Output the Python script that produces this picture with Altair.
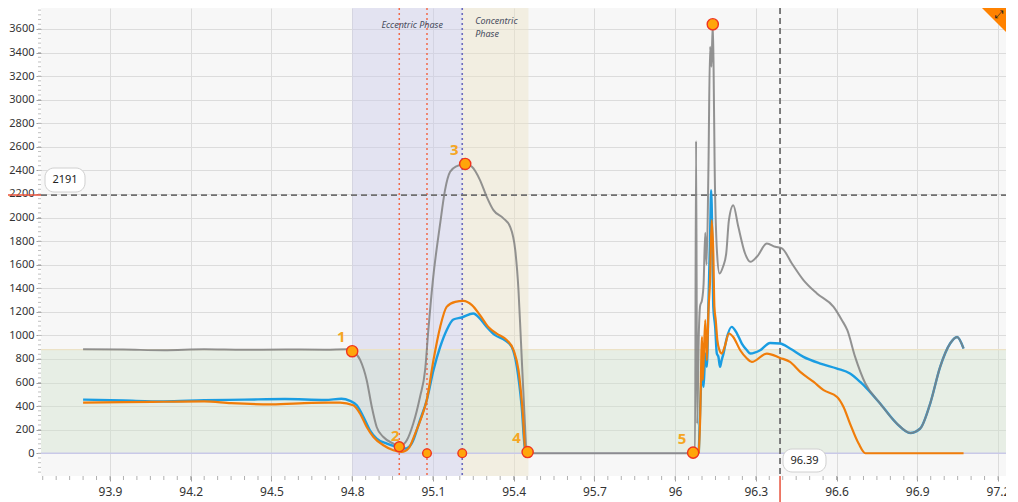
import altair as alt
import pandas as pd
import numpy as np

# ---------------- data ----------------
gray_x = [93.80, 93.95, 94.10, 94.25, 94.40, 94.55, 94.70, 94.78, 94.80, 94.83, 94.854, 94.873, 94.891,
          94.916, 94.953, 94.978, 95.003, 95.027, 95.052, 95.071, 95.083, 95.10, 95.127, 95.145, 95.164,
          95.189, 95.22, 95.245, 95.275, 95.30, 95.325, 95.362, 95.387, 95.406, 95.418, 95.427, 95.44,
          95.449, 95.47, 96.065, 96.074, 96.078, 96.082, 96.088, 96.093, 96.100, 96.106, 96.112, 96.117,
          96.124, 96.130, 96.135, 96.140, 96.143, 96.147, 96.156, 96.165, 96.178, 96.19, 96.20, 96.216,
          96.235, 96.26, 96.28, 96.304, 96.341, 96.372, 96.397, 96.434, 96.477, 96.527, 96.589, 96.62,
          96.64, 96.669, 96.707, 96.762, 96.824, 96.874, 96.911, 96.948, 96.985, 97.022, 97.048, 97.072]
gray_y = [882, 880, 874, 882, 878, 880, 878, 882, 866, 790, 620, 393, 223,
          138, 82, 62, 110, 252, 478, 705, 1044, 1469, 1950, 2233, 2388,
          2437, 2455, 2431, 2318, 2176, 2063, 1993, 1921, 1723, 1384, 959, 337,
          11, 0, 0, 0, 2650, 250, 1000, 1250, 1300, 1440, 1870, 1600,
          2430, 3450, 3280, 3640, 3280, 2430, 1695, 1525, 1582, 1695, 1978, 2105,
          1921, 1695, 1624, 1667, 1780, 1752, 1738, 1610, 1469, 1356, 1242, 1129,
          1044, 818, 592, 422, 252, 172, 210, 422, 733, 931, 987, 889]

blue_x = [93.80, 93.95, 94.10, 94.25, 94.40, 94.55, 94.70, 94.76, 94.792, 94.817, 94.842, 94.866, 94.891,
          94.929, 94.966, 94.997, 95.021, 95.052, 95.077, 95.102, 95.127, 95.151, 95.176, 95.207, 95.25,
          95.275, 95.30, 95.331, 95.368, 95.393, 95.412, 95.43, 95.443, 95.46, 96.088, 96.093, 96.10,
          96.106, 96.112, 96.118, 96.124, 96.13, 96.134, 96.139, 96.142, 96.149, 96.155, 96.161, 96.167,
          96.173, 96.18, 96.19, 96.21, 96.23, 96.248, 96.267, 96.28, 96.316, 96.353, 96.39, 96.427,
          96.477, 96.54, 96.602, 96.65, 96.688, 96.713, 96.762, 96.824, 96.874, 96.911, 96.948, 96.985,
          97.022, 97.048, 97.072]
blue_y = [455, 447, 440, 450, 455, 460, 452, 462, 444, 407, 308, 195, 125,
          82, 54, 40, 82, 280, 450, 705, 902, 1044, 1135, 1152, 1186,
          1143, 1072, 1002, 959, 902, 733, 393, 25, 0, 0, 365, 680,
          563, 846, 733, 1271, 1837, 2233, 1695, 1242, 1072, 846, 818, 733,
          790, 846, 959, 1072, 1016, 931, 874, 846, 874, 936, 931, 889,
          818, 761, 719, 677, 605, 549, 422, 252, 172, 210, 422, 733,
          931, 987, 889]

orange_x = [93.80, 93.95, 94.10, 94.25, 94.35, 94.50, 94.65, 94.755, 94.804, 94.829, 94.854, 94.879, 94.916,
            94.953, 94.984, 95.009, 95.034, 95.058, 95.077, 95.102, 95.127, 95.151, 95.183, 95.213, 95.245,
            95.275, 95.306, 95.337, 95.375, 95.40, 95.418, 95.434, 95.443, 95.46, 96.088, 96.093, 96.10,
            96.103, 96.112, 96.118, 96.124, 96.13, 96.136, 96.142, 96.146, 96.151, 96.157, 96.165, 96.173,
            96.184, 96.20, 96.216, 96.242, 96.267, 96.285, 96.341, 96.39, 96.427, 96.465, 96.515, 96.552,
            96.602, 96.626, 96.65, 96.682, 96.707, 97.072]
orange_y = [430, 433, 437, 440, 425, 415, 428, 430, 407, 337, 223, 138, 68,
            25, 11, 40, 167, 308, 450, 790, 1072, 1242, 1285, 1293, 1257,
            1172, 1072, 1016, 959, 874, 705, 337, 40, 0, 0, 280, 987,
            620, 1129, 790, 1214, 1469, 1978, 1695, 1242, 1129, 959, 874, 846,
            902, 1016, 987, 874, 804, 775, 846, 809, 775, 690, 605, 535,
            478, 393, 252, 82, 0, 0]

# key points (1..5, two phase markers, the peak)
pt_x = [94.80, 94.975, 95.078, 95.209, 95.22, 95.452, 96.067, 96.140]
pt_y = [866, 55, 0, 0, 2455, 10, 5, 3640]
pt_label = ["1", "2", "", "", "3", "4", "5", ""]
pt_kind = ["big", "mid", "small", "small", "big", "big", "big", "big"]

# phases
phase_name = ["Eccentric Phase", "Concentric Phase"]
phase_start = [94.80, 95.209]
phase_end = [95.209, 95.455]

red_marks = [94.975, 95.078]
blue_mark = [95.209]
ref_level = 880
cross_y = 2191
cross_x = 96.39
flight_gap = 95.7   # blue/orange traces are absent while airborne

x_major = [93.9, 94.2, 94.5, 94.8, 95.1, 95.4, 95.7, 96.0, 96.3, 96.6, 96.9, 97.2]
y_major = [0, 200, 400, 600, 800, 1000, 1200, 1400, 1600, 1800, 2000, 2200, 2400,
           2600, 2800, 3000, 3200, 3400, 3600]
x_minor = [round(v, 2) for v in np.arange(93.65, 97.21, 0.05)]
y_minor = list(range(-160, 3761, 40))

# ---------------- layout ----------------
W, H = 965, 468
X_DOMAIN = [93.6436, 97.2297]
Y_DOMAIN = [-193, 3778]
FONT = "Noto Sans"

xs = alt.Scale(domain=X_DOMAIN, nice=False, zero=False)
ys = alt.Scale(domain=Y_DOMAIN, nice=False, zero=False)

x_axis = alt.Axis(values=x_major, format=".1~f", grid=True, gridColor="#dcdcdc", gridWidth=1,
                  tickSize=5, tickColor="#a0a0a0", domain=False, labelFontSize=12,
                  labelColor="#333333", labelFont=FONT, labelPadding=5, title=None,
                  labelFlush=False, labelOverlap=False)
y_axis = alt.Axis(values=y_major, format="d", grid=True, gridColor="#dcdcdc", gridWidth=1,
                  tickSize=5, tickColor="#a0a0a0", domain=False, labelFontSize=11,
                  labelColor="#333333", labelFont=FONT, labelPadding=2, title=None,
                  labelOverlap=False)


def X(field):
    return alt.X(field, type="quantitative", scale=xs, axis=x_axis)


def Y(field):
    return alt.Y(field, type="quantitative", scale=ys, axis=y_axis)


gray_df = pd.DataFrame({"x": gray_x, "y": gray_y})
blue_df = pd.DataFrame({"x": blue_x, "y": blue_y})
blue_df["seg"] = (blue_df["x"] > flight_gap).astype(int)
orange_df = pd.DataFrame({"x": orange_x, "y": orange_y})
orange_df["seg"] = (orange_df["x"] > flight_gap).astype(int)
pts_df = pd.DataFrame({"x": pt_x, "y": pt_y, "label": pt_label, "kind": pt_kind})
phase_df = pd.DataFrame({"name": phase_name, "start": phase_start, "end": phase_end})

# phase bands
phase_colors = alt.Scale(domain=phase_name, range=["#c9c9e8", "#ece2c6"])
bands = alt.Chart(phase_df).mark_rect(opacity=0.45).encode(
    x=X("start"), x2="end",
    y=alt.value(0), y2=alt.value(H),
    color=alt.Color("name:N", scale=phase_colors, legend=None),
)
green = alt.Chart(pd.DataFrame({"lo": [0], "hi": [ref_level]})).mark_rect(
    color="#cfe0cb", opacity=0.4).encode(
    x=alt.value(0), x2=alt.value(W), y=Y("lo"), y2="hi")
hlines = alt.Chart(pd.DataFrame({"y": [0, ref_level], "c": ["zero", "ref"]})).mark_rule(
    strokeWidth=1.3).encode(
    y=Y("y"), x=alt.value(0), x2=alt.value(W),
    color=alt.Color("c:N", scale=alt.Scale(domain=["zero", "ref"], range=["#8a8aac", "#a9a9c9"]),
                    legend=None),
)

# vertical marker lines
red_rules = alt.Chart(pd.DataFrame({"x": red_marks})).mark_rule(
    color="#f26a4a", strokeDash=[2, 3], strokeWidth=1.5).encode(
    x=X("x"), y=alt.value(0), y2=alt.value(H))
blue_rules = alt.Chart(pd.DataFrame({"x": blue_mark})).mark_rule(
    color="#6b6bbd", strokeDash=[2, 3], strokeWidth=1.6).encode(
    x=X("x"), y=alt.value(0), y2=alt.value(H))

# phase captions
ecc_text = alt.Chart(pd.DataFrame({"x": [95.023], "y": [3634], "t": [phase_name[0]]})).mark_text(
    font=FONT, fontSize=9, fontStyle="italic", color="#474d5e", align="center").encode(
    x=X("x"), y=Y("y"), text="t:N")
con_text = alt.Chart(pd.DataFrame({"x": [95.257], "y": [3665], "t": [["Concentric", "Phase"]]})).mark_text(
    font=FONT, fontSize=9, fontStyle="italic", color="#474d5e", align="left", lineHeight=13).encode(
    x=X("x"), y=Y("y"), text="t")

# minor ticks
x_minor_ticks = alt.Chart(pd.DataFrame({"x": x_minor})).mark_rule(color="#b0b0b0", strokeWidth=1).encode(
    x=X("x"), y=alt.value(H), y2=alt.value(H + 4))
y_minor_ticks = alt.Chart(pd.DataFrame({"y": y_minor})).mark_rule(color="#c0c0c0", strokeWidth=1).encode(
    y=Y("y"), x=alt.value(-3), x2=alt.value(0))

# crosshair
cross_h = alt.Chart(pd.DataFrame({"y": [cross_y]})).mark_rule(
    color="#707070", strokeDash=[6, 4], strokeWidth=1.8).encode(
    y=Y("y"), x=alt.value(0), x2=alt.value(W))
cross_v = alt.Chart(pd.DataFrame({"x": [cross_x]})).mark_rule(
    color="#707070", strokeDash=[6, 4], strokeWidth=1.8).encode(
    x=X("x"), y=alt.value(0), y2=alt.value(H))
red_y = alt.Chart(pd.DataFrame({"y": [cross_y]})).mark_rule(color="#e8503a", strokeWidth=1.5).encode(
    y=Y("y"), x=alt.value(-33), x2=alt.value(0))
red_x = alt.Chart(pd.DataFrame({"x": [cross_x]})).mark_rule(color="#e8503a", strokeWidth=1.5).encode(
    x=X("x"), y=alt.value(H), y2=alt.value(H + 26))

# lines
line_blue = alt.Chart(blue_df).mark_line(color="#1a9de2", strokeWidth=2.4, interpolate="monotone").encode(
    x=X("x"), y=Y("y"), detail="seg:N")
line_gray = alt.Chart(gray_df).mark_line(color="#808080", strokeWidth=2.0, opacity=0.85,
                                         interpolate="monotone").encode(
    x=X("x"), y=Y("y"))
line_orange = alt.Chart(orange_df).mark_line(color="#f07d0a", strokeWidth=2.2,
                                             interpolate="monotone").encode(
    x=X("x"), y=Y("y"), detail="seg:N")

# key points
points = alt.Chart(pts_df).mark_point(filled=True, fill="#ffa50a", stroke="#f0341e",
                                      strokeWidth=1.4, opacity=1, shape="circle").encode(
    x=X("x"), y=Y("y"),
    size=alt.Size("kind:N", scale=alt.Scale(domain=["big", "mid", "small"], range=[125, 75, 55]),
                   legend=None),
)
labels_big = alt.Chart(pts_df).transform_filter(
    "datum.label != '' && datum.label != '2'").mark_text(
    font=FONT, fontSize=15, fontWeight="bold", color="#f5a623", dx=-11, dy=-14).encode(
    x=X("x"), y=Y("y"), text="label:N")
labels_small = alt.Chart(pts_df).transform_filter("datum.label == '2'").mark_text(
    font=FONT, fontSize=15, fontWeight="bold", color="#f5a623", dx=-4, dy=-11).encode(
    x=X("x"), y=Y("y"), text="label:N")

# value boxes for crosshair
box_y = alt.Chart(pd.DataFrame({"t": [str(cross_y)]})).mark_rect(
    fill="white", stroke="#d0d0d0", strokeWidth=1, cornerRadius=9).encode(
    x=alt.value(4), x2=alt.value(44), y=alt.value(160), y2=alt.value(184))
box_y_text = alt.Chart(pd.DataFrame({"t": [str(cross_y)]})).mark_text(
    font=FONT, fontSize=11, color="#222222").encode(
    x=alt.value(24), y=alt.value(172), text="t:N")
box_x = alt.Chart(pd.DataFrame({"t": [f"{cross_x:.2f}"]})).mark_rect(
    fill="white", stroke="#d0d0d0", strokeWidth=1, cornerRadius=9).encode(
    x=alt.value(742), x2=alt.value(785), y=alt.value(441), y2=alt.value(464))
box_x_text = alt.Chart(pd.DataFrame({"t": [f"{cross_x:.2f}"]})).mark_text(
    font=FONT, fontSize=11, color="#222222").encode(
    x=alt.value(763.5), y=alt.value(452.5), text="t:N")

# corner expand button
corner = alt.Chart(pd.DataFrame({"k": ["corner"]})).mark_point(
    shape="M -1 -1 L 1 -1 L 1 1 Z", filled=True, fill="#ff8200", opacity=1, size=576,
    strokeWidth=0).encode(x=alt.value(953), y=alt.value(12))
corner_icon = alt.Chart(pd.DataFrame({"t": ["⤢"]})).mark_text(
    font="DejaVu Sans", fontSize=11, color="#222222").encode(
    x=alt.value(958), y=alt.value(7), text="t:N")

chart = alt.layer(
    bands, green, hlines, red_rules, blue_rules, ecc_text, con_text,
    x_minor_ticks, y_minor_ticks, cross_h, cross_v,
    line_blue, line_gray, line_orange,
    red_y, red_x, points, labels_big, labels_small,
    box_y, box_y_text, box_x, box_x_text, corner, corner_icon,
).properties(
    width=W, height=H,
    autosize=alt.AutoSizeParams(type="none"),
    padding={"left": 33, "top": 0, "right": 0, "bottom": 26},
    background="white",
).configure_view(fill="#f7f7f7", stroke=None)

chart.save("out.html", embed_options={"renderer": "svg", "actions": False})
